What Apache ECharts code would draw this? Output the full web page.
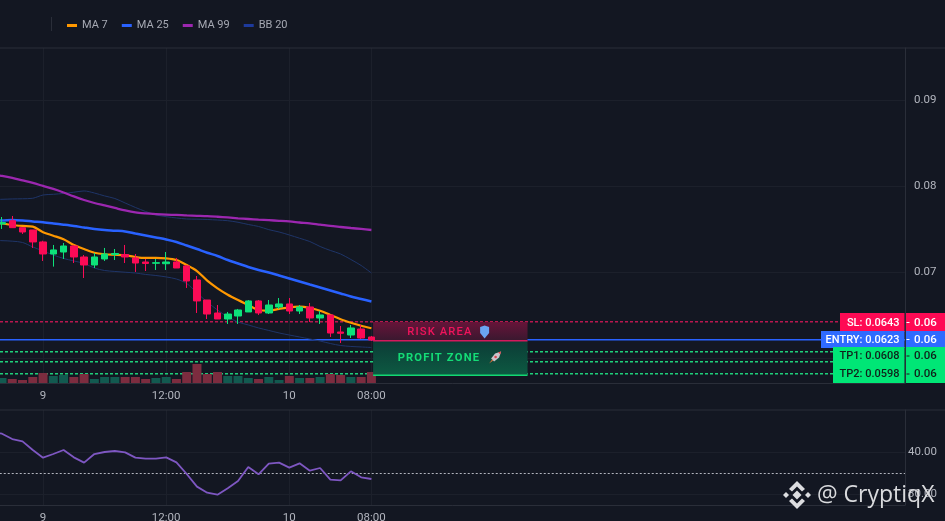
<!DOCTYPE html>
<html><head><meta charset="utf-8">
<style>html,body{margin:0;padding:0;background:#131722;overflow:hidden}#c{width:945px;height:521px}</style>
<script src="https://cdn.jsdelivr.net/npm/echarts@6/dist/echarts.min.js"></script>
</head><body><div id="c"></div>
<script>
const categories=['19:00','20:00','21:00','22:00','23:00','9','01:00','02:00','03:00','04:00','05:00','06:00','07:00','08:00','09:00','10:00','11:00','12:00','13:00','14:00','15:00','16:00','17:00','18:00','19:00','20:00','21:00','22:00','23:00','10','01:00','02:00','03:00','04:00','05:00','06:00','07:00','08:00'];
const tickIndexes=[5,17,29,37];
const priceTicks=[0.06,0.07,0.08,0.09];
const rsiTicks=[30,40];
// open, close, low, high
const candles=[[0.07620,0.07580,0.07560,0.07640],
[0.07564,0.07579,0.07506,0.07645],[0.07602,0.07521,0.07521,0.07657],[0.07521,0.07471,0.07448,0.07521],[0.07494,0.07355,0.07285,0.07494],[0.07355,0.07215,0.07134,0.07369],
[0.07215,0.07262,0.07068,0.07320],[0.07238,0.07308,0.07157,0.07343],[0.07308,0.07180,0.07110,0.07320],[0.07180,0.07087,0.06936,0.07203],[0.07087,0.07180,0.07052,0.07227],
[0.07157,0.07215,0.07134,0.07285],[0.07209,0.07221,0.07145,0.07273],[0.07209,0.07180,0.07110,0.07320],[0.07169,0.07110,0.07006,0.07215],[0.07122,0.07105,0.07017,0.07157],
[0.07107,0.07114,0.07029,0.07157],[0.07102,0.07122,0.07029,0.07238],[0.07122,0.07052,0.07052,0.07169],[0.07076,0.06901,0.06820,0.07087],[0.06913,0.06669,0.06529,0.06959],
[0.06680,0.06517,0.06459,0.06680],[0.06529,0.06459,0.06459,0.06622],[0.06459,0.06517,0.06401,0.06541],[0.06494,0.06564,0.06401,0.06576],[0.06541,0.06669,0.06541,0.06680],
[0.06669,0.06529,0.06506,0.06680],[0.06529,0.06622,0.06517,0.06680],[0.06599,0.06634,0.06576,0.06703],[0.06634,0.06552,0.06517,0.06703],[0.06552,0.06599,0.06517,0.06622],
[0.06599,0.06471,0.06424,0.06645],[0.06471,0.06506,0.06401,0.06552],[0.06506,0.06296,0.06250,0.06506],[0.06308,0.06293,0.06180,0.06378],[0.06273,0.06355,0.06238,0.06390],
[0.06343,0.06238,0.06227,0.06390],[0.06250,0.06215,0.06203,0.06262]];
const volumes=[500,500,400,300,600,1000,700,800,600,900,400,600,600,600,600,400,500,600,400,1100,1900,900,1100,700,700,500,400,600,300,700,500,500,600,900,800,600,600,1100];
const ma7=[0.07581,0.0757,0.07552,0.07541,0.07533,0.07468,0.07428,0.07386,0.0732,0.07273,0.0723,0.07212,0.07207,0.072,0.0718,0.07169,0.07169,0.07165,0.07145,0.07087,0.07017,0.06905,0.06816,0.06742,0.0668,0.06622,0.06564,0.06556,0.06576,0.06595,0.06602,0.06587,0.06556,0.06506,0.06456,0.06416,0.06381,0.06351];
const ma25=[0.07604,0.07604,0.0761,0.07604,0.07593,0.07583,0.0757,0.07556,0.07541,0.07523,0.07506,0.07494,0.07486,0.07477,0.07453,0.0743,0.07407,0.07384,0.07355,0.07314,0.07273,0.0723,0.07192,0.07145,0.07105,0.07064,0.07029,0.07,0.06965,0.0693,0.06895,0.0686,0.06826,0.06791,0.06756,0.06721,0.06692,0.06663];
const ma99=[0.0814,0.08122,0.08099,0.0807,0.08041,0.08006,0.07971,0.0793,0.07884,0.07843,0.07808,0.07779,0.0775,0.07721,0.07698,0.07686,0.07678,0.07672,0.07669,0.07663,0.07659,0.07655,0.07648,0.0764,0.0763,0.07622,0.07614,0.07608,0.07601,0.07593,0.07581,0.0757,0.07556,0.07541,0.07529,0.07517,0.07506,0.07494];
const bbUpper=[0.07849,0.07851,0.07855,0.07857,0.07863,0.07901,0.07909,0.07919,0.07933,0.07948,0.07924,0.0789,0.0786,0.07808,0.07756,0.07709,0.07669,0.07649,0.07634,0.07622,0.0762,0.07616,0.0761,0.07602,0.07584,0.07558,0.07535,0.07498,0.07471,0.07436,0.07398,0.0736,0.07302,0.07256,0.07215,0.07151,0.07081,0.06994];
const bbLower=[0.07372,0.0737,0.07364,0.07349,0.07297,0.0725,0.07203,0.07163,0.07134,0.07105,0.07052,0.07023,0.07012,0.07003,0.06994,0.06977,0.06965,0.06948,0.06924,0.06872,0.06762,0.06657,0.06564,0.06483,0.06424,0.0639,0.06355,0.06326,0.06297,0.06273,0.0625,0.06227,0.06203,0.06174,0.06151,0.0614,0.06134,0.06128];
const rsi=[44.84,44.36,43.09,42.54,40.48,38.65,39.52,40.48,38.73,37.46,39.52,40.0,40.24,39.92,38.65,38.41,38.41,38.73,37.54,34.76,31.75,30.32,29.84,31.35,33.09,36.43,34.68,37.22,37.46,36.27,37.3,35.56,36.19,33.41,33.25,35.4,33.97,33.57];
const rsiLevel=35;
const slLevel=0.0643, entryLevel=0.0622, tp1Level=0.0608, tp2Level=0.0597, tp3Level=0.0582;
const tagTexts=['SL: 0.0643','ENTRY: 0.0623','TP1: 0.0608','TP2: 0.0598'];
const tagAxisText='0.06';
const zoneFrom=37, zoneTo=52, zoneSplit=0.0621;
const riskText='RISK AREA', profitText='PROFIT ZONE';

const cats=categories.slice();
for(let k=0;k<52;k++)cats.push('+'+(k+1));
const bg='#131722',gridC='#1c202b',borderC='#2a2e39',txt='#b2b5be';
const UP='#0de27a',DOWN='#fb0b56';
const font='Roboto';
const spaced=s=>s.split('').join('\u200A');

function zones(params,api){
  const l=api.coord([zoneFrom,slLevel])[0]+1.7, r=api.coord([zoneTo,slLevel])[0]+2.2;
  const yT=api.coord([zoneFrom,slLevel])[1]+0.5, yM=api.coord([zoneFrom,zoneSplit])[1], yB=api.coord([zoneFrom,tp3Level])[1]+1;
  const grad=(a,b)=>new echarts.graphic.LinearGradient(0,0,0,1,[{offset:0,color:a},{offset:1,color:b}]);
  const cx=(l+r)/2;
  const sx=l+107, sy=yT+5;
  const rx=l+116, ry=yM+11;
  return {type:'group',children:[
    {type:'rect',shape:{x:l,y:yT,width:r-l,height:yM-yT},style:{fill:grad('#671439','#3a182f')}},
    {type:'rect',shape:{x:l,y:yM,width:r-l,height:yB-yM},style:{fill:grad('#0c3b36','#0d5a42')}},
    {type:'rect',shape:{x:l,y:yM-0.5,width:r-l,height:1.5},style:{fill:'#d4195c'}},
    {type:'rect',shape:{x:l,y:yB-0.5,width:r-l,height:1.5},style:{fill:'#12d872'}},
    {type:'text',style:{text:spaced(riskText),x:cx-11,y:(yT+yM)/2+0.5,fill:'#f0145c',font:'500 11.2px '+font,align:'center',verticalAlign:'middle'}},
    {type:'text',style:{text:spaced(profitText),x:cx-12,y:(yM+yB)/2+0.5,fill:'#14dc76',font:'700 11.2px '+font,align:'center',verticalAlign:'middle'}},
    {type:'polygon',shape:{points:[[sx,sy],[sx+4.5,sy-1.5],[sx+9,sy],[sx+9,sy+6],[sx+4.5,sy+11.5],[sx,sy+6]]},style:{fill:'#6aa5f2'}},
    {type:'polygon',shape:{points:[[rx+12,ry],[rx+6,ry+2],[rx+2,ry+7],[rx+5,ry+10],[rx+10,ry+6]]},style:{fill:'#c9c4cc'}},
    {type:'polygon',shape:{points:[[rx+12,ry],[rx+9,ry+0.8],[rx+11.2,ry+3]]},style:{fill:'#e2464f'}},
    {type:'polygon',shape:{points:[[rx+3,ry+8],[rx,ry+12],[rx+4,ry+9]]},style:{fill:'#e8703a'}},
    {type:'circle',shape:{cx:rx+6.5,cy:ry+5.5,r:1.3},style:{fill:'#d84650'}}
  ]};
}

const line=(name,data,color,width)=>({name,type:'line',data,xAxisIndex:0,yAxisIndex:0,symbol:'none',smooth:0.3,z:5,
  lineStyle:{color,width},itemStyle:{color},emphasis:{disabled:true},silent:true});

// horizontal rules: grid lines are hairlines, trade levels a little heavier
function ruleItem(params,api){
  const cs=params.coordSys;
  const st=ruleStyles[params.dataIndex];
  const y=Math.floor(api.coord([0,api.value(1)])[1]);
  if(!st.d) return {type:'rect',shape:{x:cs.x,y,width:cs.width,height:st.h},style:{fill:st.c}};
  const kids=[];
  for(let x=0;x<cs.x+cs.width;x+=5) kids.push({type:'rect',shape:{x,y,width:3,height:st.h},style:{fill:st.c}});
  return {type:'group',children:kids};
}
const ruleValues=priceTicks.concat([slLevel,entryLevel,tp1Level,tp2Level,tp3Level]);
const ruleStyles=priceTicks.map(()=>({c:gridC,d:false,h:1})).concat([{c:'#b8184f',d:true,h:1.5},{c:'#2962ff',d:false,h:1.5},{c:'#1fd07a',d:true,h:1.5},{c:'#1fd07a',d:true,h:1.5},{c:'#1fd07a',d:true,h:1.5}]);

function tag(x,y,h,fill,textFill,text){
  return [
   {type:'rect',z:100,shape:{x,y,width:904.5-x,height:h},style:{fill}},
   {type:'rect',z:100,shape:{x:906,y,width:39,height:h},style:{fill}},
   {type:'rect',z:101,shape:{x:906.5,y:y+h/2-0.5,width:3,height:1},style:{fill:textFill}},
   {type:'text',z:101,style:{text,x:899.5,y:y+h/2+0.5,fill:textFill,font:'500 11px '+font,align:'right',verticalAlign:'middle'}},
   {type:'text',z:101,style:{text:tagAxisText,x:914,y:y+h/2+0.5,fill:textFill,font:'500 11.5px '+font,align:'left',verticalAlign:'middle'}}
  ];
}
const hline=(y,x2)=>({type:'rect',z:50,shape:{x:0,y:y-0.5,width:x2,height:1},style:{fill:borderC}});
const gridLine=v=>({yAxis:v,lineStyle:{color:gridC,type:'solid',width:1}});

const chart=echarts.init(document.getElementById('c'),null,{renderer:'canvas'});
chart.setOption({
 animation:false,backgroundColor:bg,
 textStyle:{fontFamily:font},
 legend:{left:62,top:15,itemWidth:10,itemHeight:3,itemGap:14,icon:'rect',selectedMode:false,
  textStyle:{color:'#a6a9b3',fontSize:11,fontFamily:font},
  data:[{name:'MA 7'},{name:'MA 25'},{name:'MA 99'},{name:'BB 20',itemStyle:{color:'#1d3a9c'}}]},
 grid:[{left:-8.26,right:40,top:48,height:335,outerBoundsMode:'none'},{left:-8.26,right:40,top:410,height:95,outerBoundsMode:'none'}],
 xAxis:[0,1].map(i=>({type:'category',gridIndex:i,data:cats,boundaryGap:false,
   axisLine:{show:true,lineStyle:{color:borderC}},axisTick:{show:false},
   axisLabel:{color:txt,fontSize:11.5,fontFamily:font,margin:7,interval:k=>tickIndexes.includes(k),hideOverlap:false},
   splitLine:{show:true,interval:k=>tickIndexes.includes(k),lineStyle:{color:gridC}}})),
 yAxis:[
  {type:'value',gridIndex:0,position:'right',min:0.05715,max:0.0961,
   axisLine:{show:true,lineStyle:{color:borderC}},axisTick:{show:false},
   axisLabel:{color:txt,fontSize:11.5,fontFamily:font,margin:9,customValues:priceTicks,formatter:v=>v.toFixed(2)},
   splitLine:{show:false}},
  {type:'value',gridIndex:0,min:0,max:33500,show:false,splitLine:{show:false}},
  {type:'value',gridIndex:1,position:'right',min:27.38,max:50,
   axisLine:{show:true,lineStyle:{color:borderC}},axisTick:{show:false},
   axisLabel:{color:txt,fontSize:11.5,fontFamily:font,margin:3,customValues:rsiTicks,formatter:v=>v.toFixed(2)},
   splitLine:{show:false}}
 ],
 series:[
  {name:'Levels',type:'custom',xAxisIndex:0,yAxisIndex:0,z:1,silent:true,clip:false,renderItem:ruleItem,
   encode:{x:0,y:1},data:ruleValues.map(v=>[0,v])},
  {name:'Volume',type:'bar',xAxisIndex:0,yAxisIndex:1,barWidth:9,z:2,silent:true,
   data:volumes.map((v,i)=>({value:v,itemStyle:{color:candles[i][1]>=candles[i][0]?'#125a50':'#7c2c3f'}}))},
  {name:'Candles',type:'candlestick',xAxisIndex:0,yAxisIndex:0,barWidth:7,z:6,silent:true,data:candles,
   itemStyle:{color:UP,color0:DOWN,borderColor:UP,borderColor0:DOWN,borderWidth:1}},
  {name:'Zones',type:'custom',xAxisIndex:0,yAxisIndex:0,data:[[0,0]],z:3,silent:true,clip:false,renderItem:zones},
  line('BB 20',bbUpper,'#1f3568',1),
  line('BB 20',bbLower,'#1f3568',1),
  line('MA 99',ma99,'#9c27b0',2.3),
  line('MA 25',ma25,'#2962ff',2.5),
  line('MA 7',ma7,'#ff9800',2.2),
  {name:'RSI',type:'line',xAxisIndex:1,yAxisIndex:2,data:rsi,symbol:'none',z:5,silent:true,
   lineStyle:{color:'#7e57c2',width:1.8},
   markLine:{silent:true,symbol:'none',precision:4,label:{show:false},data:rsiTicks.map(gridLine).concat([{yAxis:rsiLevel,lineStyle:{color:'#b2b5be',type:[2,2],width:1}}])}}
 ],
 graphic:[
  hline(48,945),hline(410,945),
  {type:'rect',z:50,shape:{x:51,y:17,width:1,height:14},style:{fill:borderC}},
  ...tag(840,313,19,'#ff0a54','#ffffff',tagTexts[0]),
  ...tag(821,331,17,'#2f6bff','#ffffff',tagTexts[1]),
  ...tag(833,347,18,'#00e676','#10201a',tagTexts[2]),
  ...tag(833,365,18,'#00e676','#10201a',tagTexts[3]),
  {type:'group',z:110,x:797,y:495,children:[
    {type:'polygon',z:110,shape:{points:[[0,-4.5],[4.5,0],[0,4.5],[-4.5,0]]},style:{fill:'#dcdde0'}},
    {type:'polygon',z:110,shape:{points:[[-14,0],[-11,-3],[-8,0],[-11,3]]},style:{fill:'#dcdde0'}},
    {type:'polygon',z:110,shape:{points:[[14,0],[11,-3],[8,0],[11,3]]},style:{fill:'#dcdde0'}},
    {type:'polygon',z:110,shape:{points:[[0,-14],[8,-6],[5,-3.5],[0,-8.5],[-5,-3.5],[-8,-6]]},style:{fill:'#dcdde0'}},
    {type:'polygon',z:110,shape:{points:[[0,14],[8,6],[5,3.5],[0,8.5],[-5,3.5],[-8,6]]},style:{fill:'#dcdde0'}}
  ]},
  {type:'text',z:110,style:{text:'@ CryptiqX',x:817,y:495,fill:'#d9dadd',font:'400 23px "Open Sans"',align:'left',verticalAlign:'middle'}}
 ]
});
</script></body></html>
